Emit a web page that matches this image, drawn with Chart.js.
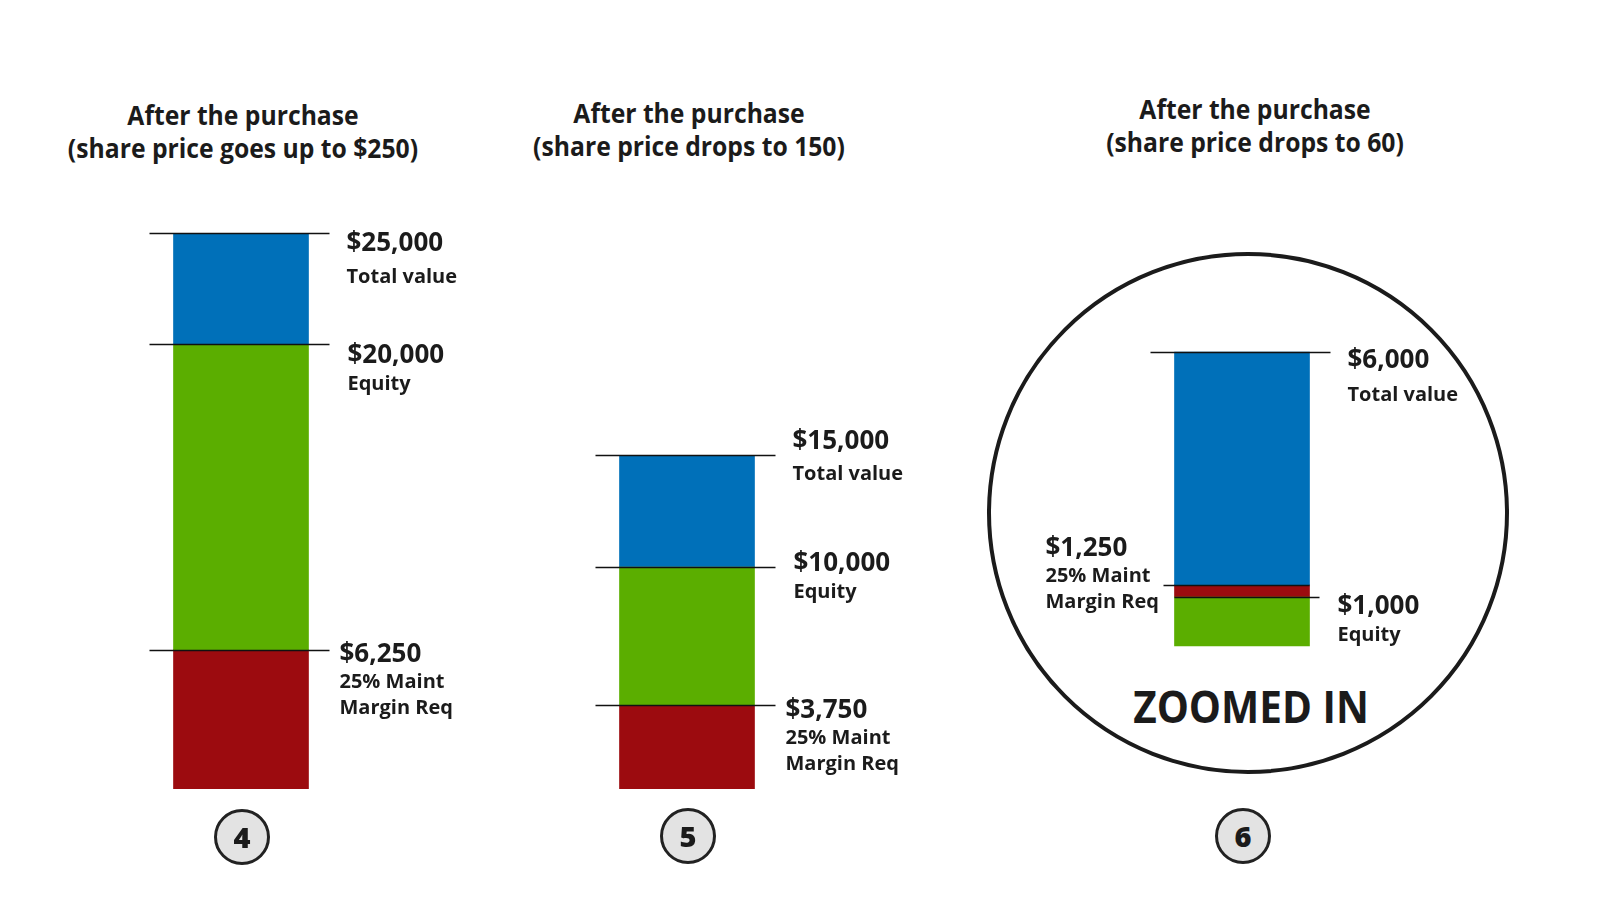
<!DOCTYPE html>
<html>
<head>
<meta charset="utf-8">
<script src="https://cdn.jsdelivr.net/npm/chart.js@4.4.1/dist/chart.umd.min.js"></script>
<style>
  body { margin: 0; width: 1600px; height: 900px; background: #fff; position: relative; overflow: hidden;
         font-family: "Open Sans", sans-serif; color: #1b1b1b; }
  .title { position: absolute; width: 500px; text-align: center; font-weight: 700; font-size: 26px; line-height: 33px;
           transform: scaleX(0.95); }
  .num { position: absolute; width: 56px; height: 56px; box-sizing: border-box; border: 3px solid #222;
         border-radius: 50%; background: #e3e3e3; text-align: center; font-weight: 800; font-size: 29px; line-height: 50px; }
  .ring { position: absolute; left: 987px; top: 252px; width: 522px; height: 522px; box-sizing: border-box;
          border: 4.5px solid #1b1b1b; border-radius: 50%; }
  .zoomed { position: absolute; left: 1051px; top: 678px; width: 400px; text-align: center;
            font-weight: 700; font-size: 45px; line-height: 56px; transform: scaleX(0.9); }
  .box { position: absolute; }
</style>
</head>
<body>
<div class="ring"></div>
<div class="zoomed">ZOOMED IN</div>

<div class="box" style="left:11px;top:189px;width:460px;height:644px"><canvas id="c0"></canvas></div>
<div class="box" style="left:457px;top:189px;width:460px;height:644px"><canvas id="c1"></canvas></div>
<div class="box" style="left:1012px;top:303px;width:460px;height:392px"><canvas id="c2"></canvas></div>

<script>
// values
const steps = ['4', '5', '6'];
const titleLine1 = ['After the purchase', 'After the purchase', 'After the purchase'];
const titleLine2 = ['(share price goes up to $250)', '(share price drops to 150)', '(share price drops to 60)'];
const totalValue = [25000, 15000, 6000];
const equity = [20000, 10000, 1000];
const maintReq = [6250, 3750, 1250];

const BLUE = '#0070b9';
const GREEN = '#5bae00';
const RED = '#9c0b0f';

// where each panel sits on the page
const panelX = [241, 687, 1242];
const titleY = [115, 113, 109];
const numY = [837, 836, 836];
const yRange = [[-2000, 27000], [-2000, 27000], [-1000, 7000]];

// label placement next to the bars (dy = offset of the $ line from the marker line)
const markerLayout = [
  { total: { dy: 10, gap: 34 }, equity: { dy: 11, gap: 29 }, req: { dy: 4, gap: 28 } },
  { total: { dy: -14, gap: 33 }, equity: { dy: -4, gap: 29 }, req: { dy: 5, gap: 28 } },
  { total: { dy: 8, gap: 35 }, equity: { dy: 9, gap: 29 }, req: { dy: -37, gap: 28 } }
];

function money(v) {
  return '$' + v.toLocaleString('en-US');
}

// titles and step numbers
steps.forEach(function(s, i) {
  const t = document.createElement('div');
  t.className = 'title';
  t.style.left = (panelX[i] + [2, 2, 13][i] - 250) + 'px';
  t.style.top = (titleY[i] - 16) + 'px';
  t.innerHTML = titleLine1[i] + '<br>' + titleLine2[i];
  document.body.appendChild(t);

  const n = document.createElement('div');
  n.className = 'num';
  n.style.left = (panelX[i] + 1 - 28) + 'px';
  n.style.top = (numY[i] - 28) + 'px';
  n.textContent = s;
  document.body.appendChild(n);
});

// draws the tick lines and value labels beside each bar
const markerPlugin = {
  id: 'markers',
  afterDatasetsDraw(chart) {
    const i = chart.options.plugins.markers.panel;
    const ctx = chart.ctx;
    const y = chart.scales.y;
    const bar = chart.getDatasetMeta(0).data[0];
    const left = bar.x - bar.width / 2;
    const right = bar.x + bar.width / 2;
    const lay = markerLayout[i];
    const reqBelow = maintReq[i] <= equity[i];

    const marks = [
      { v: totalValue[i], x0: left - 24, x1: right + 21, tx: right + 38, sub: ['Total value'], lay: lay.total },
      { v: equity[i], x0: reqBelow ? left - 24 : left, x1: right + (reqBelow ? 21 : 10),
        tx: right + (reqBelow ? 39 : 28), sub: ['Equity'], lay: lay.equity },
      { v: maintReq[i], x0: reqBelow ? left - 24 : left - 11, x1: reqBelow ? right + 21 : right,
        tx: reqBelow ? right + 31 : left - 129, sub: ['25% Maint', 'Margin Req'], lay: lay.req }
    ];

    ctx.save();
    marks.forEach(function(m) {
      const py = Math.round(y.getPixelForValue(m.v)) + 0.5;
      ctx.strokeStyle = '#111';
      ctx.lineWidth = 1.5;
      ctx.beginPath();
      ctx.moveTo(m.x0, py);
      ctx.lineTo(m.x1, py);
      ctx.stroke();

      ctx.fillStyle = '#1b1b1b';
      ctx.textAlign = 'left';
      ctx.textBaseline = 'middle';
      ctx.font = '700 26px "Open Sans"';
      let ty = py + m.lay.dy;
      ctx.fillText(money(m.v), m.tx, ty);
      ctx.font = '700 20px "Open Sans"';
      m.sub.forEach(function(line, k) {
        ty += k === 0 ? m.lay.gap : 26;
        ctx.fillText(line, m.tx, ty);
      });
    });
    ctx.restore();
  }
};

function makeChart(i) {
  const reqBelow = maintReq[i] <= equity[i];
  const low = Math.min(maintReq[i], equity[i]);
  const high = Math.max(maintReq[i], equity[i]);
  const common = { grouped: false, barThickness: 135, borderWidth: 0 };

  new Chart(document.getElementById('c' + i), {
    type: 'bar',
    data: {
      labels: [steps[i]],
      datasets: [
        Object.assign({ label: 'Total value', data: [[high, totalValue[i]]], backgroundColor: BLUE }, common),
        Object.assign({ label: 'Equity', data: [reqBelow ? [maintReq[i], equity[i]] : [0, equity[i]]], backgroundColor: GREEN }, common),
        Object.assign({ label: '25% Maint Margin Req', data: [reqBelow ? [0, maintReq[i]] : [low, maintReq[i]]], backgroundColor: RED }, common)
      ]
    },
    options: {
      responsive: true,
      maintainAspectRatio: false,
      animation: false,
      layout: { padding: 0 },
      scales: {
        x: { display: false },
        y: { display: false, min: yRange[i][0], max: yRange[i][1] }
      },
      plugins: {
        legend: { display: false },
        tooltip: { enabled: false },
        markers: { panel: i }
      }
    },
    plugins: [markerPlugin]
  });
}

steps.forEach(function(s, i) { makeChart(i); });
</script>
</body>
</html>
